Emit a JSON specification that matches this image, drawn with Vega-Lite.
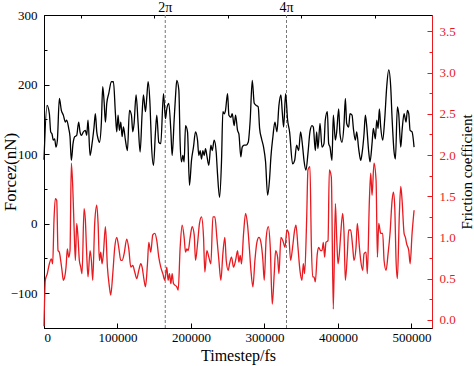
{
  "$schema": "https://vega.github.io/schema/vega-lite/v6.json",
  "width": 388,
  "height": 313,
  "autosize": "none",
  "padding": {"left": 44, "top": 15, "right": 42, "bottom": 38},
  "config": {
    "font": "Liberation Serif",
    "view": {"stroke": "black", "strokeWidth": 1},
    "style": {"guide-label": {"font": "Liberation Serif", "fontSize": 13}, "guide-title": {"font": "Liberation Serif", "fontWeight": "normal"}},
    "axis": {"grid": false, "labelFont": "Liberation Serif", "titleFont": "Liberation Serif", "titleFontWeight": "normal", "labelFontSize": 13, "titleFontSize": 16, "labelColor": "black", "titleColor": "black", "tickColor": "black", "domainColor": "black"}
  },
  "datasets": {
    "marks": [{"t": 165000, "label": "2π"}, {"t": 330000, "label": "4π"}],
    "force": [
      {"t":0,"v":92},{"t":4100,"v":170},{"t":7300,"v":158},{"t":9100,"v":132},{"t":10900,"v":129},{"t":12700,"v":120},{"t":14500,"v":122},{"t":16300,"v":110},{"t":18200,"v":120},{"t":20900,"v":180},{"t":23600,"v":163},{"t":26300,"v":156},{"t":29100,"v":146},{"t":30900,"v":149},{"t":33600,"v":137},{"t":35400,"v":125},{"t":37200,"v":91},{"t":39500,"v":115},{"t":41800,"v":125},{"t":44500,"v":127},{"t":47200,"v":146},{"t":49000,"v":132},{"t":50900,"v":127},{"t":53600,"v":132},{"t":56300,"v":134},{"t":58100,"v":127},{"t":59900,"v":149},{"t":62700,"v":98},{"t":65400,"v":115},{"t":68100,"v":139},{"t":69900,"v":158},{"t":71800,"v":132},{"t":73600,"v":122},{"t":75400,"v":117},{"t":78100,"v":146},{"t":79900,"v":197},{"t":81700,"v":177},{"t":83600,"v":146},{"t":85400,"v":173},{"t":88100,"v":187},{"t":91700,"v":204},{"t":94500,"v":204},{"t":97200,"v":158},{"t":99000,"v":132},{"t":100800,"v":156},{"t":102600,"v":134},{"t":104500,"v":146},{"t":106300,"v":125},{"t":108100,"v":139},{"t":110800,"v":120},{"t":113500,"v":105},{"t":116300,"v":163},{"t":119000,"v":156},{"t":120800,"v":132},{"t":122600,"v":144},{"t":125300,"v":185},{"t":128100,"v":144},{"t":130800,"v":103},{"t":133500,"v":158},{"t":135300,"v":185},{"t":138100,"v":161},{"t":139900,"v":182},{"t":141700,"v":204},{"t":144400,"v":168},{"t":146200,"v":115},{"t":149000,"v":84},{"t":151700,"v":132},{"t":153500,"v":156},{"t":156200,"v":117},{"t":158900,"v":115},
      {"t":162600,"v":187},{"t":165300,"v":151},{"t":167100,"v":165},{"t":169800,"v":173},{"t":172600,"v":134},{"t":174400,"v":98},{"t":177100,"v":149},{"t":178900,"v":182},{"t":180700,"v":206},{"t":183500,"v":192},{"t":185300,"v":115},{"t":187100,"v":89},{"t":188900,"v":98},{"t":190700,"v":89},{"t":192600,"v":141},{"t":195300,"v":132},{"t":198000,"v":55},{"t":200700,"v":91},{"t":203400,"v":110},{"t":206200,"v":132},{"t":208900,"v":120},{"t":210700,"v":98},{"t":212500,"v":105},{"t":214300,"v":93},{"t":216200,"v":105},{"t":218000,"v":98},{"t":219800,"v":108},{"t":221600,"v":98},{"t":224300,"v":84},{"t":227100,"v":113},{"t":228900,"v":105},{"t":231600,"v":120},{"t":234300,"v":103},{"t":236100,"v":72},{"t":238900,"v":38},{"t":241600,"v":91},{"t":243400,"v":161},{"t":245200,"v":158},{"t":247000,"v":163},{"t":249800,"v":187},{"t":251600,"v":156},{"t":254300,"v":153},{"t":256100,"v":158},{"t":258800,"v":141},{"t":260700,"v":156},{"t":263400,"v":134},{"t":265200,"v":129},{"t":267900,"v":96},{"t":269700,"v":110},{"t":272500,"v":113},{"t":275200,"v":113},{"t":277900,"v":117},{"t":280600,"v":149},{"t":283400,"v":206},{"t":286100,"v":173},{"t":288800,"v":170},{"t":291500,"v":168},{"t":293400,"v":137},{"t":296100,"v":122},{"t":298800,"v":110},{"t":301500,"v":89},{"t":304300,"v":41},{"t":307000,"v":65},{"t":308800,"v":96},{"t":311500,"v":125},{"t":314200,"v":146},{"t":317000,"v":132},{"t":319700,"v":170},{"t":322400,"v":185},{"t":324200,"v":161},{"t":326100,"v":139},{"t":328800,"v":187},{"t":331500,"v":149},{"t":334200,"v":132},
      {"t":338300,"v":86},{"t":341100,"v":91},{"t":343800,"v":113},{"t":346500,"v":105},{"t":349200,"v":132},{"t":352000,"v":110},{"t":353800,"v":91},{"t":356500,"v":77},{"t":359200,"v":101},{"t":361900,"v":132},{"t":364700,"v":141},{"t":366500,"v":139},{"t":369200,"v":105},{"t":371000,"v":132},{"t":372800,"v":108},{"t":375600,"v":144},{"t":378300,"v":110},{"t":381000,"v":115},{"t":382800,"v":149},{"t":385600,"v":161},{"t":387400,"v":115},{"t":389200,"v":110},{"t":391900,"v":91},{"t":393700,"v":156},{"t":396500,"v":120},{"t":398300,"v":132},{"t":401000,"v":165},{"t":402800,"v":129},{"t":405500,"v":117},{"t":408300,"v":144},{"t":410100,"v":180},{"t":411900,"v":144},{"t":414600,"v":139},{"t":416400,"v":158},{"t":419200,"v":156},{"t":421000,"v":137},{"t":423700,"v":120},{"t":425500,"v":132},{"t":428200,"v":108},{"t":431000,"v":91},{"t":432800,"v":101},{"t":435500,"v":129},{"t":437300,"v":156},{"t":439100,"v":141},{"t":441900,"v":103},{"t":443700,"v":89},{"t":446400,"v":115},{"t":448200,"v":137},{"t":450900,"v":122},{"t":452800,"v":149},{"t":454600,"v":137},{"t":456400,"v":165},{"t":458200,"v":139},{"t":460900,"v":120},{"t":463700,"v":151},{"t":466400,"v":197},{"t":469100,"v":221},{"t":471800,"v":197},{"t":473700,"v":151},{"t":476400,"v":103},{"t":478200,"v":93},{"t":480900,"v":168},{"t":482700,"v":158},{"t":485500,"v":110},{"t":487300,"v":134},{"t":490000,"v":158},{"t":492700,"v":146},{"t":494500,"v":163},{"t":496400,"v":158},{"t":498200,"v":134},{"t":500900,"v":132},{"t":503600,"v":110}
    ],
    "fric": [
      {"t":0,"v":-0.08},{"t":1800,"v":0.48},{"t":4500,"v":0.56},{"t":7300,"v":0.68},{"t":10000,"v":0.74},{"t":11800,"v":0.68},{"t":13600,"v":1.21},{"t":15400,"v":1.47},{"t":17300,"v":1.45},{"t":19100,"v":0.84},{"t":20900,"v":0.82},{"t":22700,"v":0.72},{"t":24500,"v":0.6},{"t":26300,"v":0.48},{"t":28200,"v":0.52},{"t":30000,"v":0.64},{"t":31800,"v":0.86},{"t":33600,"v":0.76},{"t":35400,"v":0.84},{"t":37200,"v":1.9},{"t":39100,"v":1.62},{"t":40900,"v":1.13},{"t":42700,"v":0.72},{"t":44500,"v":1.17},{"t":46300,"v":1.0},{"t":48100,"v":0.72},{"t":50000,"v":0.64},{"t":51800,"v":0.56},{"t":54500,"v":1.35},{"t":56300,"v":1.21},{"t":58100,"v":0.8},{"t":59900,"v":0.52},{"t":62700,"v":0.84},{"t":64500,"v":0.72},{"t":66300,"v":0.48},{"t":69000,"v":1.17},{"t":71800,"v":1.39},{"t":73600,"v":1.17},{"t":75400,"v":0.72},{"t":77200,"v":0.82},{"t":79000,"v":0.68},{"t":80800,"v":0.8},{"t":83600,"v":1.13},{"t":86300,"v":0.64},{"t":89000,"v":0.4},{"t":90800,"v":0.3},{"t":93600,"v":0.56},{"t":96300,"v":0.88},{"t":99000,"v":1.0},{"t":101700,"v":0.88},{"t":104500,"v":0.72},{"t":106300,"v":0.72},{"t":109000,"v":0.8},{"t":112600,"v":0.98},{"t":115400,"v":0.86},{"t":118100,"v":0.64},{"t":120800,"v":0.66},{"t":123500,"v":0.58},{"t":126200,"v":0.5},{"t":129000,"v":0.6},{"t":131700,"v":0.68},{"t":133500,"v":0.64},{"t":136200,"v":0.48},{"t":138100,"v":0.4},{"t":140800,"v":0.68},{"t":142600,"v":0.94},{"t":145300,"v":0.82},{"t":148000,"v":1.03},{"t":150800,"v":1.05},{"t":153500,"v":0.96},{"t":156200,"v":0.76},{"t":158900,"v":0.64},{"t":161700,"v":0.56},{"t":164400,"v":0.48},{"t":167100,"v":0.64},{"t":168900,"v":0.48},{"t":170800,"v":0.56},{"t":172600,"v":0.44},{"t":174400,"v":0.56},{"t":176200,"v":0.44},{"t":178000,"v":0.42},{"t":180700,"v":0.4},{"t":182600,"v":0.36},{"t":185300,"v":0.88},{"t":188000,"v":1.15},{"t":190700,"v":1.0},{"t":192600,"v":0.82},{"t":194400,"v":0.86},{"t":196200,"v":0.84},{"t":198900,"v":1.0},{"t":201600,"v":1.13},{"t":204400,"v":1.03},{"t":206200,"v":0.72},{"t":208900,"v":0.92},{"t":211600,"v":1.17},{"t":214300,"v":1.25},{"t":217100,"v":1.0},{"t":218900,"v":0.58},{"t":221600,"v":0.84},{"t":224300,"v":0.76},{"t":227100,"v":0.68},{"t":229800,"v":1.25},{"t":232500,"v":1.25},{"t":235200,"v":1.0},{"t":238000,"v":0.72},{"t":240700,"v":0.48},{"t":243400,"v":0.8},{"t":246100,"v":1.0},{"t":248000,"v":0.72},{"t":250700,"v":0.6},{"t":252500,"v":0.68},{"t":255200,"v":0.76},{"t":257900,"v":0.64},{"t":260700,"v":0.72},{"t":263400,"v":0.84},{"t":265200,"v":0.7},{"t":267000,"v":0.78},{"t":268800,"v":0.68},{"t":271600,"v":1.05},{"t":274300,"v":1.29},{"t":277000,"v":1.15},{"t":279700,"v":0.84},{"t":281600,"v":0.6},{"t":284300,"v":0.4},{"t":287000,"v":0.72},{"t":289700,"v":0.94},{"t":292500,"v":1.0},{"t":295200,"v":0.94},{"t":297900,"v":0.72},{"t":299700,"v":0.48},{"t":302400,"v":1.0},{"t":305200,"v":1.13},{"t":307900,"v":0.88},{"t":310600,"v":0.19},{"t":313300,"v":0.56},{"t":315200,"v":0.84},{"t":317900,"v":0.76},{"t":319700,"v":0.56},{"t":322400,"v":1.0},{"t":325100,"v":0.96},{"t":327900,"v":0.88},{"t":330600,"v":1.09},{"t":332900,"v":1.05},{"t":335600,"v":0.72},{"t":338300,"v":0.88},{"t":341100,"v":1.09},{"t":342900,"v":1.15},{"t":345600,"v":0.88},{"t":348300,"v":0.6},{"t":351000,"v":0.48},{"t":352900,"v":0.68},{"t":354700,"v":0.56},{"t":357400,"v":1.21},{"t":359200,"v":1.82},{"t":361900,"v":1.86},{"t":363800,"v":0.92},{"t":365600,"v":0.52},{"t":367400,"v":0.52},{"t":369200,"v":0.46},{"t":371900,"v":0.8},{"t":373700,"v":0.88},{"t":376500,"v":0.84},{"t":378300,"v":0.84},{"t":380100,"v":0.94},{"t":381900,"v":0.76},{"t":383700,"v":0.94},{"t":386500,"v":0.96},{"t":388300,"v":1.82},{"t":391000,"v":1.73},{"t":393700,"v":0.13},{"t":396500,"v":1.41},{"t":398300,"v":1.0},{"t":400100,"v":0.68},{"t":401900,"v":0.8},{"t":403700,"v":1.03},{"t":406400,"v":1.29},{"t":408300,"v":1.05},{"t":410100,"v":0.48},{"t":412800,"v":0.8},{"t":414600,"v":1.09},{"t":417300,"v":1.09},{"t":420100,"v":0.88},{"t":421900,"v":0.72},{"t":424600,"v":0.88},{"t":426400,"v":1.17},{"t":429200,"v":0.88},{"t":431000,"v":0.72},{"t":433700,"v":0.6},{"t":435500,"v":0.8},{"t":438200,"v":0.82},{"t":440000,"v":0.56},{"t":442800,"v":1.45},{"t":444600,"v":1.78},{"t":446400,"v":1.51},{"t":449100,"v":1.9},{"t":451900,"v":1.69},{"t":453700,"v":0.76},{"t":455500,"v":1.17},{"t":458200,"v":1.05},{"t":460900,"v":1.05},{"t":462800,"v":0.72},{"t":465500,"v":0.6},{"t":468200,"v":0.8},{"t":470900,"v":1.05},{"t":473700,"v":1.45},{"t":475500,"v":1.55},{"t":477300,"v":1.37},{"t":479100,"v":0.72},{"t":480900,"v":0.5},{"t":483600,"v":1.29},{"t":485500,"v":1.62},{"t":487300,"v":1.45},{"t":490000,"v":1.05},{"t":491800,"v":1.0},{"t":493600,"v":0.92},{"t":496400,"v":0.84},{"t":498200,"v":0.68},{"t":500900,"v":1.05},{"t":503600,"v":1.33}
    ]
  },
  "layer": [
    {
      "data": {"name": "marks"},
      "mark": {"type": "rule", "color": "#777777", "strokeDash": [3, 2], "strokeWidth": 1},
      "encoding": {
        "x": {"field": "t", "type": "quantitative", "scale": {"domain": [0, 528000], "nice": false, "zero": false},
          "axis": {"values": [0, 100000, 200000, 300000, 400000, 500000], "format": "d", "title": "Timestep/fs", "titleFontSize": 16, "titlePadding": 3, "tickSize": -5, "labelPadding": 8, "labelFont": "Liberation Serif", "labelFontSize": 13}}
      }
    },
    {
      "layer": [
        {
          "data": {"name": "force"},
          "mark": {"type": "line", "color": "black", "strokeWidth": 1.3, "interpolate": "monotone"},
          "encoding": {
            "x": {"field": "t", "type": "quantitative", "scale": {"domain": [0, 528000], "nice": false, "zero": false}, "axis": null},
            "y": {"field": "v", "type": "quantitative", "scale": {"domain": [-150, 300], "nice": false, "zero": false},
              "axis": {"orient": "left", "values": [-100, 0, 100, 200, 300], "title": "Forcez(nN)", "titleFontSize": 17, "titlePadding": -9, "tickSize": -5, "labelPadding": 12, "labelFont": "Liberation Serif", "labelFontSize": 13}}
          }
        },
        {
          "data": {"name": "force"},
          "mark": {"type": "line", "strokeOpacity": 0},
          "encoding": {
            "x": {"field": "t", "type": "quantitative", "scale": {"domain": [0, 528000], "nice": false, "zero": false},
              "axis": {"values": [50000, 150000, 250000, 350000, 450000], "labels": false, "domain": false, "title": null, "tickSize": -3}},
            "y": {"field": "v", "type": "quantitative", "scale": {"domain": [-150, 300], "nice": false, "zero": false},
              "axis": {"orient": "left", "values": [-50, 50, 150, 250], "labels": false, "domain": false, "title": null, "tickSize": -3}}
          }
        },
        {
          "data": {"name": "marks"},
          "mark": {"type": "text", "baseline": "bottom", "dy": 0, "fontSize": 14, "font": "Liberation Serif", "color": "black"},
          "encoding": {
            "x": {"field": "t", "type": "quantitative", "scale": {"domain": [0, 528000], "nice": false, "zero": false}, "axis": null},
            "y": {"datum": 300, "type": "quantitative", "axis": null},
            "text": {"field": "label"}
          }
        }
      ],
      "resolve": {"axis": {"y": "independent", "x": "independent"}}
    },
    {
      "layer": [
        {
          "data": {"name": "fric"},
          "mark": {"type": "line", "color": "#e8191f", "strokeWidth": 1.3, "interpolate": "monotone"},
          "encoding": {
            "x": {"field": "t", "type": "quantitative", "scale": {"domain": [0, 528000], "nice": false, "zero": false}, "axis": null},
            "y": {"field": "v", "type": "quantitative", "scale": {"domain": [-0.1, 3.7], "nice": false, "zero": false},
              "axis": {"orient": "right", "values": [0, 0.5, 1, 1.5, 2, 2.5, 3, 3.5], "format": ".1f", "title": "Friction coefficient", "titleAngle": 270, "titleFontSize": 15, "titlePadding": 19, "tickSize": -5, "labelPadding": 12, "labelFont": "Liberation Serif", "labelFontSize": 13, "labelColor": "#e8191f", "tickColor": "#e8191f", "domainColor": "#e8191f"}}
          }
        },
        {
          "data": {"name": "fric"},
          "mark": {"type": "line", "strokeOpacity": 0},
          "encoding": {
            "x": {"field": "t", "type": "quantitative", "scale": {"domain": [0, 528000], "nice": false, "zero": false}, "axis": null},
            "y": {"field": "v", "type": "quantitative", "scale": {"domain": [-0.1, 3.7], "nice": false, "zero": false},
              "axis": {"orient": "right", "values": [0.25, 0.75, 1.25, 1.75, 2.25, 2.75, 3.25], "labels": false, "domain": false, "title": null, "tickSize": -3, "tickColor": "#e8191f"}}
          }
        }
      ],
      "resolve": {"axis": {"y": "independent"}}
    }
  ],
  "resolve": {"scale": {"y": "independent"}, "axis": {"x": "independent"}}
}
